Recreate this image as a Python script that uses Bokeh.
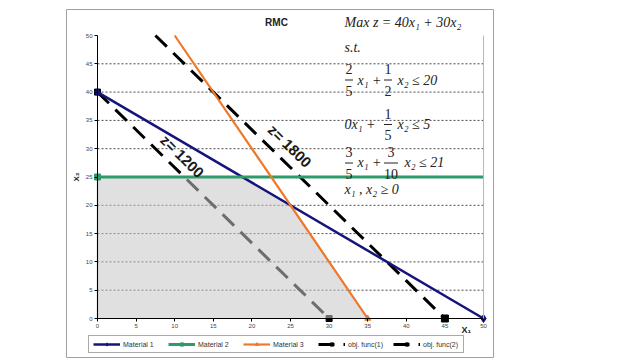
from bokeh.plotting import figure
from bokeh.models import Range1d, Label, Legend, LegendItem, FixedTicker, LinearAxis
from bokeh.embed import file_html
from bokeh.resources import INLINE

# ---------------- data ----------------
mat1_x1 = [0, 50]
mat1_x2 = [40, 0]
mat2_x1 = [0, 50]
mat2_x2 = [25, 25]
mat2_mark_x1 = [0]
mat2_mark_x2 = [25]
mat3_x1 = [10, 35]
mat3_x2 = [50, 0]
mat3_mark_x1 = [35]
mat3_mark_x2 = [0]
obj1_x1 = [0, 30]
obj1_x2 = [40, 0]
obj2_x1 = [7.5, 45]          # visible part (enters the plot at x2 = 50)
obj2_x2 = [50, 0]
obj2_mark_x1 = [45]
obj2_mark_x2 = [0]
feas_x1 = [0, 0, 18.75, 25, 35]
feas_x2 = [0, 25, 25, 20, 0]
ticks = [0, 5, 10, 15, 20, 25, 30, 35, 40, 45, 50]
grid_ticks = [5, 10, 15, 20, 25, 30, 35, 40, 45]
series_names = ["Material 1", "Material 2", "Material 3", "obj. func(1)", "obj. func(2)"]

NAVY = "#14147c"
GREEN = "#2f9a6a"
ORANGE = "#f07828"

# pixel layout of the plot area inside the page
X0, XS = 97.0, 7.72
Y0, YS = 318.0, 5.66


def dx(px):
    return (px - X0) / XS


def dy(py):
    return (Y0 - py) / YS


W, H = 494, 358
p = figure(width=W, height=H, output_backend="svg", toolbar_location=None,
           x_range=Range1d(dx(66), dx(493)), y_range=Range1d(dy(357), dy(9)),
           min_border_left=66, min_border_right=1, min_border_top=9, min_border_bottom=1,
           x_axis_location=None, y_axis_location=None)
p.background_fill_color = "white"
p.border_fill_color = "white"
p.outline_line_color = "#a0a0a0"
p.outline_line_width = 1
for g in p.grid:
    g.visible = False

# axes fixed at the origin of the plot area
xa = LinearAxis(fixed_location=0, bounds=(ticks[0], ticks[-1]), ticker=FixedTicker(ticks=ticks))
ya = LinearAxis(fixed_location=0, bounds=(ticks[0], ticks[-1]), ticker=FixedTicker(ticks=ticks))
for ax in (xa, ya):
    ax.major_label_text_font = "Liberation Sans"
    ax.major_label_text_font_size = "6px"
    ax.major_label_text_color = "#444444"
    ax.axis_line_color = "black"
    ax.major_tick_line_color = "black"
    ax.major_tick_out = 3
    ax.major_tick_in = 0
    ax.minor_tick_line_color = None
    ax.major_label_standoff = 2
ya.axis_label = "X₂"
ya.axis_label_text_font = "Liberation Sans"
ya.axis_label_text_font_size = "8px"
ya.axis_label_text_font_style = "bold"
ya.axis_label_text_color = "#222222"
ya.axis_label_standoff = 2
p.add_layout(xa, "below")
p.add_layout(ya, "left")
ra = LinearAxis(fixed_location=ticks[-1], bounds=(ticks[0], ticks[-1]),
                ticker=FixedTicker(ticks=[]), axis_line_color="#b8b8b8",
                major_tick_line_color=None, minor_tick_line_color=None,
                major_label_text_alpha=0)
p.add_layout(ra, "right")

# horizontal grid lines
n = len(grid_ticks)
p.segment(x0=[ticks[0]] * n, x1=[ticks[-1]] * n, y0=grid_ticks, y1=grid_ticks,
          line_color="#4a4a4a", line_dash="2 2", line_width=1)

# objective function lines (under the shading)
o1 = p.line(obj1_x1, obj1_x2, line_color="black", line_width=3, line_dash="16 9")
o1m = p.scatter(obj1_x1, obj1_x2, marker="square", size=6, color="black")
o2 = p.line(obj2_x1, obj2_x2, line_color="black", line_width=3, line_dash="16 9")
o2m = p.scatter(obj2_mark_x1, obj2_mark_x2, marker="square", size=7, color="black")

# feasible region
p.patch(feas_x1, feas_x2, fill_color="#c6c6c6", fill_alpha=0.55,
        line_color="#555555", line_width=1.2)

# constraints
m1 = p.line(mat1_x1, mat1_x2, line_color=NAVY, line_width=2.5)
m1m = p.scatter(mat1_x1, mat1_x2, marker="diamond", size=8, color=NAVY)
m2 = p.line(mat2_x1, mat2_x2, line_color=GREEN, line_width=3)
m2m = p.scatter(mat2_mark_x1, mat2_mark_x2, marker="square", size=6, color=GREEN)
m3 = p.line(mat3_x1, mat3_x2, line_color=ORANGE, line_width=2.2)
m3m = p.scatter(mat3_mark_x1, mat3_mark_x2, marker="triangle", size=6, color=ORANGE)

legend = Legend(items=[
    LegendItem(label=series_names[0], renderers=[m1, m1m]),
    LegendItem(label=series_names[1], renderers=[m2, m2m]),
    LegendItem(label=series_names[2], renderers=[m3, m3m]),
    LegendItem(label=series_names[3], renderers=[o1, o1m]),
    LegendItem(label=series_names[4], renderers=[o2, o2m]),
], orientation="horizontal", location=(22, 4))
legend.label_text_font = "Liberation Sans"
legend.label_text_font_size = "7px"
legend.label_text_color = "#333333"
legend.glyph_width = 27
legend.glyph_height = 8
legend.label_height = 8
legend.label_width = 36
legend.label_standoff = 3
legend.spacing = 9
legend.padding = 4
legend.margin = 0
legend.border_line_color = "#555555"
legend.border_line_width = 1
legend.background_fill_alpha = 1
p.add_layout(legend)

# ---------------- annotations ----------------
p.add_layout(Label(x=dx(276), y=dy(22), text="RMC", text_font="Liberation Sans",
                   text_font_size="10px", text_font_style="bold", text_align="center",
                   text_baseline="middle", text_color="#222222"))
p.add_layout(Label(x=dx(461), y=dy(329), text="X₁", text_font="Liberation Sans",
                   text_font_size="9px", text_font_style="bold", text_align="left",
                   text_baseline="middle", text_color="#222222"))

p.add_layout(Label(x=24.9, y=30.5, text="z= 1800", angle=-0.775, text_font="Liberation Sans",
                   text_font_size="15px", text_font_style="bold", text_align="center",
                   text_baseline="middle", text_color="#1a1a1a"))
p.add_layout(Label(x=11.0, y=28.7, text="z= 1200", angle=-0.775, text_font="Liberation Sans",
                   text_font_size="15px", text_font_style="bold", text_align="center",
                   text_baseline="middle", text_color="#1a1a1a"))

# model text (text, left px, centre py, style)
formula_parts = [
    ("Max z = 40x₁ + 30x₂", 344, 22, "italic"),
    ("s.t.", 344, 47, "italic"),
    ("x₁ +", 357, 80, "italic"),
    ("x₂ ≤ 20", 397, 80, "italic"),
    ("0x₁ +", 344, 124, "italic"),
    ("x₂ ≤ 5", 397, 124, "italic"),
    ("x₁ +", 357, 162, "italic"),
    ("x₂ ≤ 21", 404, 162, "italic"),
    ("x₁ , x₂ ≥ 0", 344, 189, "italic"),
]
for txt, px, py, st in formula_parts:
    p.add_layout(Label(x=dx(px), y=dy(py), text=txt, text_font="Liberation Serif",
                       text_font_size="14px", text_font_style=st, text_align="left",
                       text_baseline="middle", text_color="#222222"))

# fractions (numerator, denominator, centre px, numerator py, denominator py, half width)
fractions = [
    ("2", "5", 348.5, 68, 90, 4),
    ("1", "2", 387.5, 68, 90, 4),
    ("1", "5", 387.5, 113, 134, 4),
    ("3", "5", 348.5, 151, 173, 4),
    ("3", "10", 390.5, 151, 173, 7),
]
for num, den, cx, ny, dny, hw in fractions:
    for t, yy in ((num, ny), (den, dny)):
        p.add_layout(Label(x=dx(cx), y=dy(yy), text=t, text_font="Liberation Serif",
                           text_font_size="14px", text_align="center",
                           text_baseline="middle", text_color="#222222"))
    by = (ny + dny) / 2.0 + 0.5
    p.segment(x0=[dx(cx - hw)], y0=[dy(by)], x1=[dx(cx + hw)], y1=[dy(by)],
              line_color="#222222", line_width=1)

open("out.html", "w").write(file_html(p, INLINE))
